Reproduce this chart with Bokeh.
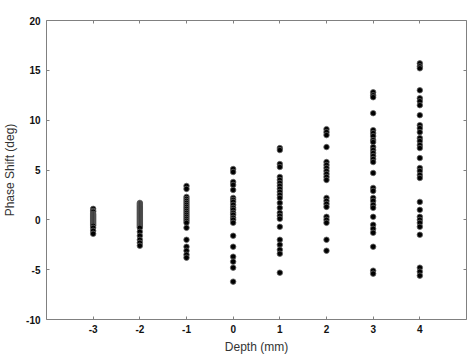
from bokeh.plotting import figure
from bokeh.models import Range1d, FixedTicker, LinearAxis, ColumnDataSource, CustomJSTickFormatter
from bokeh.embed import file_html
from bokeh.resources import INLINE

depths = [-3, -2, -1, 0, 1, 2, 3, 4]
x_ticks = [-3, -2, -1, 0, 1, 2, 3, 4]
y_ticks = [-10, -5, 0, 5, 10, 15, 20]

shift_m3 = [1.1, 0.9, 0.8, 0.6, 0.5, 0.4, 0.3, 0.2, 0.1, 0.0, -0.1, -0.2, -0.3, -0.4,
            -0.5, -0.6, -0.8, -1.1, -1.4]
shift_m2 = [1.7, 1.6, 1.5, 1.4, 1.3, 1.2, 1.1, 1.0, 0.9, 0.8, 0.7, 0.6, 0.5, 0.4, 0.3,
            0.2, 0.1, 0.0, -0.1, -0.2, -0.3, -0.4, -0.5, -0.6, -0.7, -0.8, -1.2, -1.6,
            -2.0, -2.3, -2.6]
shift_m1 = [3.4, 3.1, 2.3, 2.1, 1.9, 1.7, 1.5, 1.3, 1.1, 0.9, 0.7, 0.5, 0.3, 0.1, -0.1,
            -0.3, -0.8, -2.0, -2.7, -3.1, -3.5, -3.8]
shift_0 = [5.1, 4.8, 3.8, 3.5, 3.0, 2.2, 2.0, 1.8, 1.5, 1.2, 1.0, 0.7, 0.5, 0.2, 0.0,
           -0.3, -1.6, -2.7, -3.7, -4.2, -4.8, -6.2]
shift_1 = [7.2, 7.0, 5.6, 5.3, 4.3, 4.0, 3.7, 3.4, 3.1, 2.8, 2.5, 2.2, 1.7, 1.2, 0.7,
           0.4, 0.1, -0.7, -2.0, -2.5, -3.0, -3.4, -5.3]
shift_2 = [9.1, 8.8, 8.5, 7.3, 5.8, 5.5, 5.2, 4.9, 4.6, 4.3, 4.0, 2.2, 1.9, 1.6, 1.3,
           0.3, 0.0, -0.3, -2.0, -3.1]
shift_3 = [12.8, 12.5, 12.3, 10.7, 9.0, 8.7, 8.4, 8.0, 7.8, 7.3, 7.0, 6.7, 6.4, 6.1, 5.8,
           4.7, 3.2, 2.9, 2.2, 1.9, 1.5, 1.2, 0.3, -0.5, -0.9, -1.3, -2.7, -5.1, -5.4]
shift_4 = [15.7, 15.4, 15.2, 13.0, 12.2, 11.9, 11.5, 10.5, 9.5, 9.2, 8.8, 8.2, 7.9, 7.5,
           7.2, 6.2, 5.2, 4.9, 4.5, 4.2, 1.8, 1.0, 0.3, 0.0, -0.3, -0.7, -1.5, -4.8, -5.2,
           -5.6]

series = [shift_m3, shift_m2, shift_m1, shift_0, shift_1, shift_2, shift_3, shift_4]
xs, ys = [], []
for d, vals in zip(depths, series):
    for v in vals:
        xs.append(d)
        ys.append(v)
src = ColumnDataSource(dict(x=xs, y=ys))

p = figure(width=474, height=364, output_backend="svg", toolbar_location=None,
           x_range=Range1d(-4, 5), y_range=Range1d(-10, 20),
           min_border_left=40, min_border_right=8, min_border_top=20, min_border_bottom=45)
p.xgrid.visible = False
p.ygrid.visible = False
p.outline_line_color = None
p.background_fill_color = "white"

p.scatter("x", "y", source=src, size=5.5, fill_color="black", line_color="#666666",
          line_width=0.8)

axis_color = "#808080"
font = "Liberation Sans"
plain = CustomJSTickFormatter(code="return String(tick)")

for ax in (p.xaxis[0], p.yaxis[0]):
    ax.axis_line_color = axis_color
    ax.major_tick_line_color = axis_color
    ax.major_tick_in = 3
    ax.major_tick_out = 0
    ax.minor_tick_line_color = None
    ax.formatter = plain
    ax.major_label_text_font = font
    ax.major_label_text_font_style = "bold"
    ax.major_label_text_font_size = "10px"
    ax.major_label_text_color = "#111111"
    ax.axis_label_text_font = font
    ax.axis_label_text_font_style = "normal"
    ax.axis_label_text_font_size = "12px"
    ax.axis_label_text_color = "#333333"

p.xaxis[0].ticker = FixedTicker(ticks=x_ticks)
p.yaxis[0].ticker = FixedTicker(ticks=y_ticks)
p.xaxis[0].axis_label = "Depth (mm)"
p.yaxis[0].axis_label = "Phase Shift (deg)"
p.xaxis[0].major_label_standoff = 5
p.yaxis[0].major_label_standoff = 6
p.xaxis[0].axis_label_standoff = 4
p.yaxis[0].axis_label_standoff = 6

blank = CustomJSTickFormatter(code="return ''")
top = LinearAxis(ticker=FixedTicker(ticks=x_ticks), formatter=blank)
right = LinearAxis(ticker=FixedTicker(ticks=y_ticks), formatter=blank)
for ax in (top, right):
    ax.axis_line_color = axis_color
    ax.major_tick_line_color = axis_color
    ax.major_tick_in = 3
    ax.major_tick_out = 0
    ax.minor_tick_line_color = None
    ax.major_label_text_font_size = "1px"
    ax.major_label_standoff = 0
p.add_layout(top, "above")
p.add_layout(right, "right")

open("out.html", "w").write(file_html(p, INLINE))
